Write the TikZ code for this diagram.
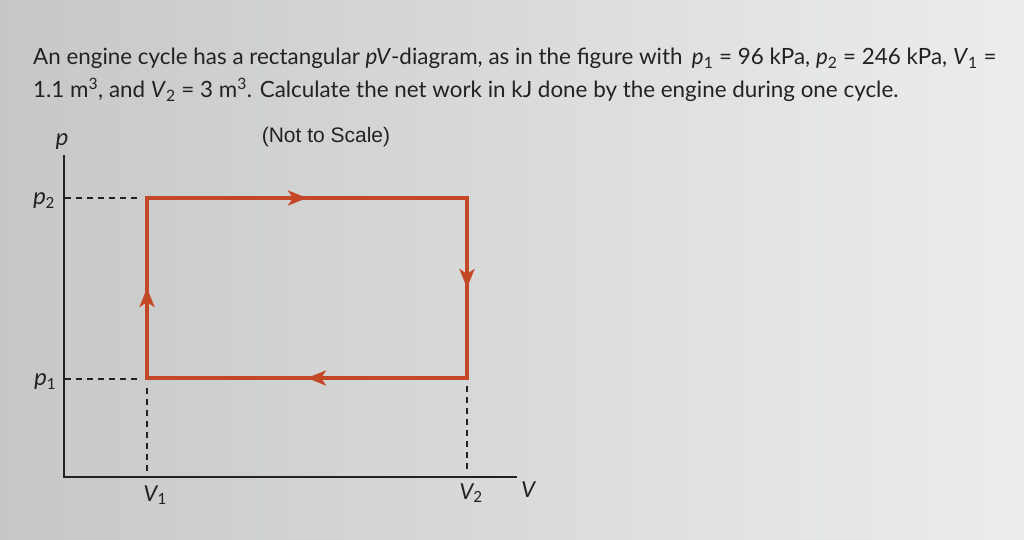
\documentclass[tikz,border=0pt]{standalone}
\usepackage{fontspec}
\setmainfont{Lato}
\newfontfamily\lblfont{Carlito}
\newfontfamily\notefont{Liberation Sans}
\usetikzlibrary{arrows.meta,decorations.markings}
\definecolor{bgl}{RGB}{198,200,200}
\definecolor{bgr}{RGB}{236,238,238}
\definecolor{ink}{RGB}{34,34,34}
\definecolor{cyc}{RGB}{196,72,38}
\tikzset{
  txt/.style={anchor=base west,inner sep=0pt,text=ink,font=\fontsize{22.4}{26}\selectfont},
  lbl/.style={inner sep=0pt,text=ink,font=\lblfont\itshape\fontsize{24.5}{28}\selectfont},
  axis/.style={draw=ink,line width=2pt},
  guide/.style={draw=ink,line width=1.2pt,dash pattern=on 6pt off 5pt},
  side/.style={draw=cyc,line width=3.5pt,postaction={decorate},
    decoration={markings,mark=at position 0.5 with {\arrow{Stealth[length=19pt,width=15pt,inset=5pt]}}}},
}
\begin{document}
\begin{tikzpicture}[x=1pt,y=-1pt]
\useasboundingbox (0,0) rectangle (1024,539);
\shade[left color=bgl,right color=bgr] (0,0) rectangle (1024,539);
% question text
\node[txt] (l1) at (33,64) {An engine cycle has a rectangular \textit{pV}-diagram, as in the figure with\, \textit{p}\textsubscript{1} = 96 kPa, \textit{p}\textsubscript{2} = 246 kPa, \textit{V}\textsubscript{1} =};
\node[txt] (l2) at (33,97) {1.1 m\textsuperscript{3}, and \textit{V}\textsubscript{2} = 3 m\textsuperscript{3}. Calculate the net work in kJ done by the engine during one cycle.};
\node[inner sep=0pt,text=ink,font=\notefont\fontsize{21}{24}\selectfont] (note) at (326,137) {(Not to Scale)};
% axes
\coordinate (O) at (64,477);
\coordinate (ptop) at (64,155);
\coordinate (vend) at (517,477);
\draw[axis] (ptop) -- (O) -- (vend);
\node[lbl] (p) at (62,142) {p};
\node[lbl] (V) at (528,490) {V};
% cycle corners
\coordinate (A) at (147,378);
\coordinate (B) at (147,198);
\coordinate (C) at (467,198);
\coordinate (D) at (467,378);
% guides
\coordinate (p2a) at (65,198);
\coordinate (p2b) at (140,198);
\coordinate (p1a) at (65,379);
\coordinate (p1b) at (140,379);
\coordinate (v1a) at (147,388);
\coordinate (v1b) at (147,472);
\coordinate (v2a) at (467,386);
\coordinate (v2b) at (467,472);
\draw[guide] (p2a) -- (p2b);
\draw[guide] (p1a) -- (p1b);
\draw[guide] (v1a) -- (v1b);
\draw[guide] (v2a) -- (v2b);
\node[lbl] (p2) at (44,201) {p\textsubscript{\upshape 2}};
\node[lbl] (p1) at (45,382) {p\textsubscript{\upshape 1}};
\node[lbl] (V1) at (155,495) {V\textsubscript{\upshape 1}};
\node[lbl] (V2) at (471,493) {V\textsubscript{\upshape 2}};
% cycle
\draw[side] (A) -- (B);
\draw[side] (B) -- (C);
\draw[side] (C) -- (D);
\draw[side] (D) -- (A);
\draw[draw=cyc,line width=3.5pt,line join=miter] (A) -- (B) -- (C) -- (D) -- cycle;
\end{tikzpicture}
\end{document}
